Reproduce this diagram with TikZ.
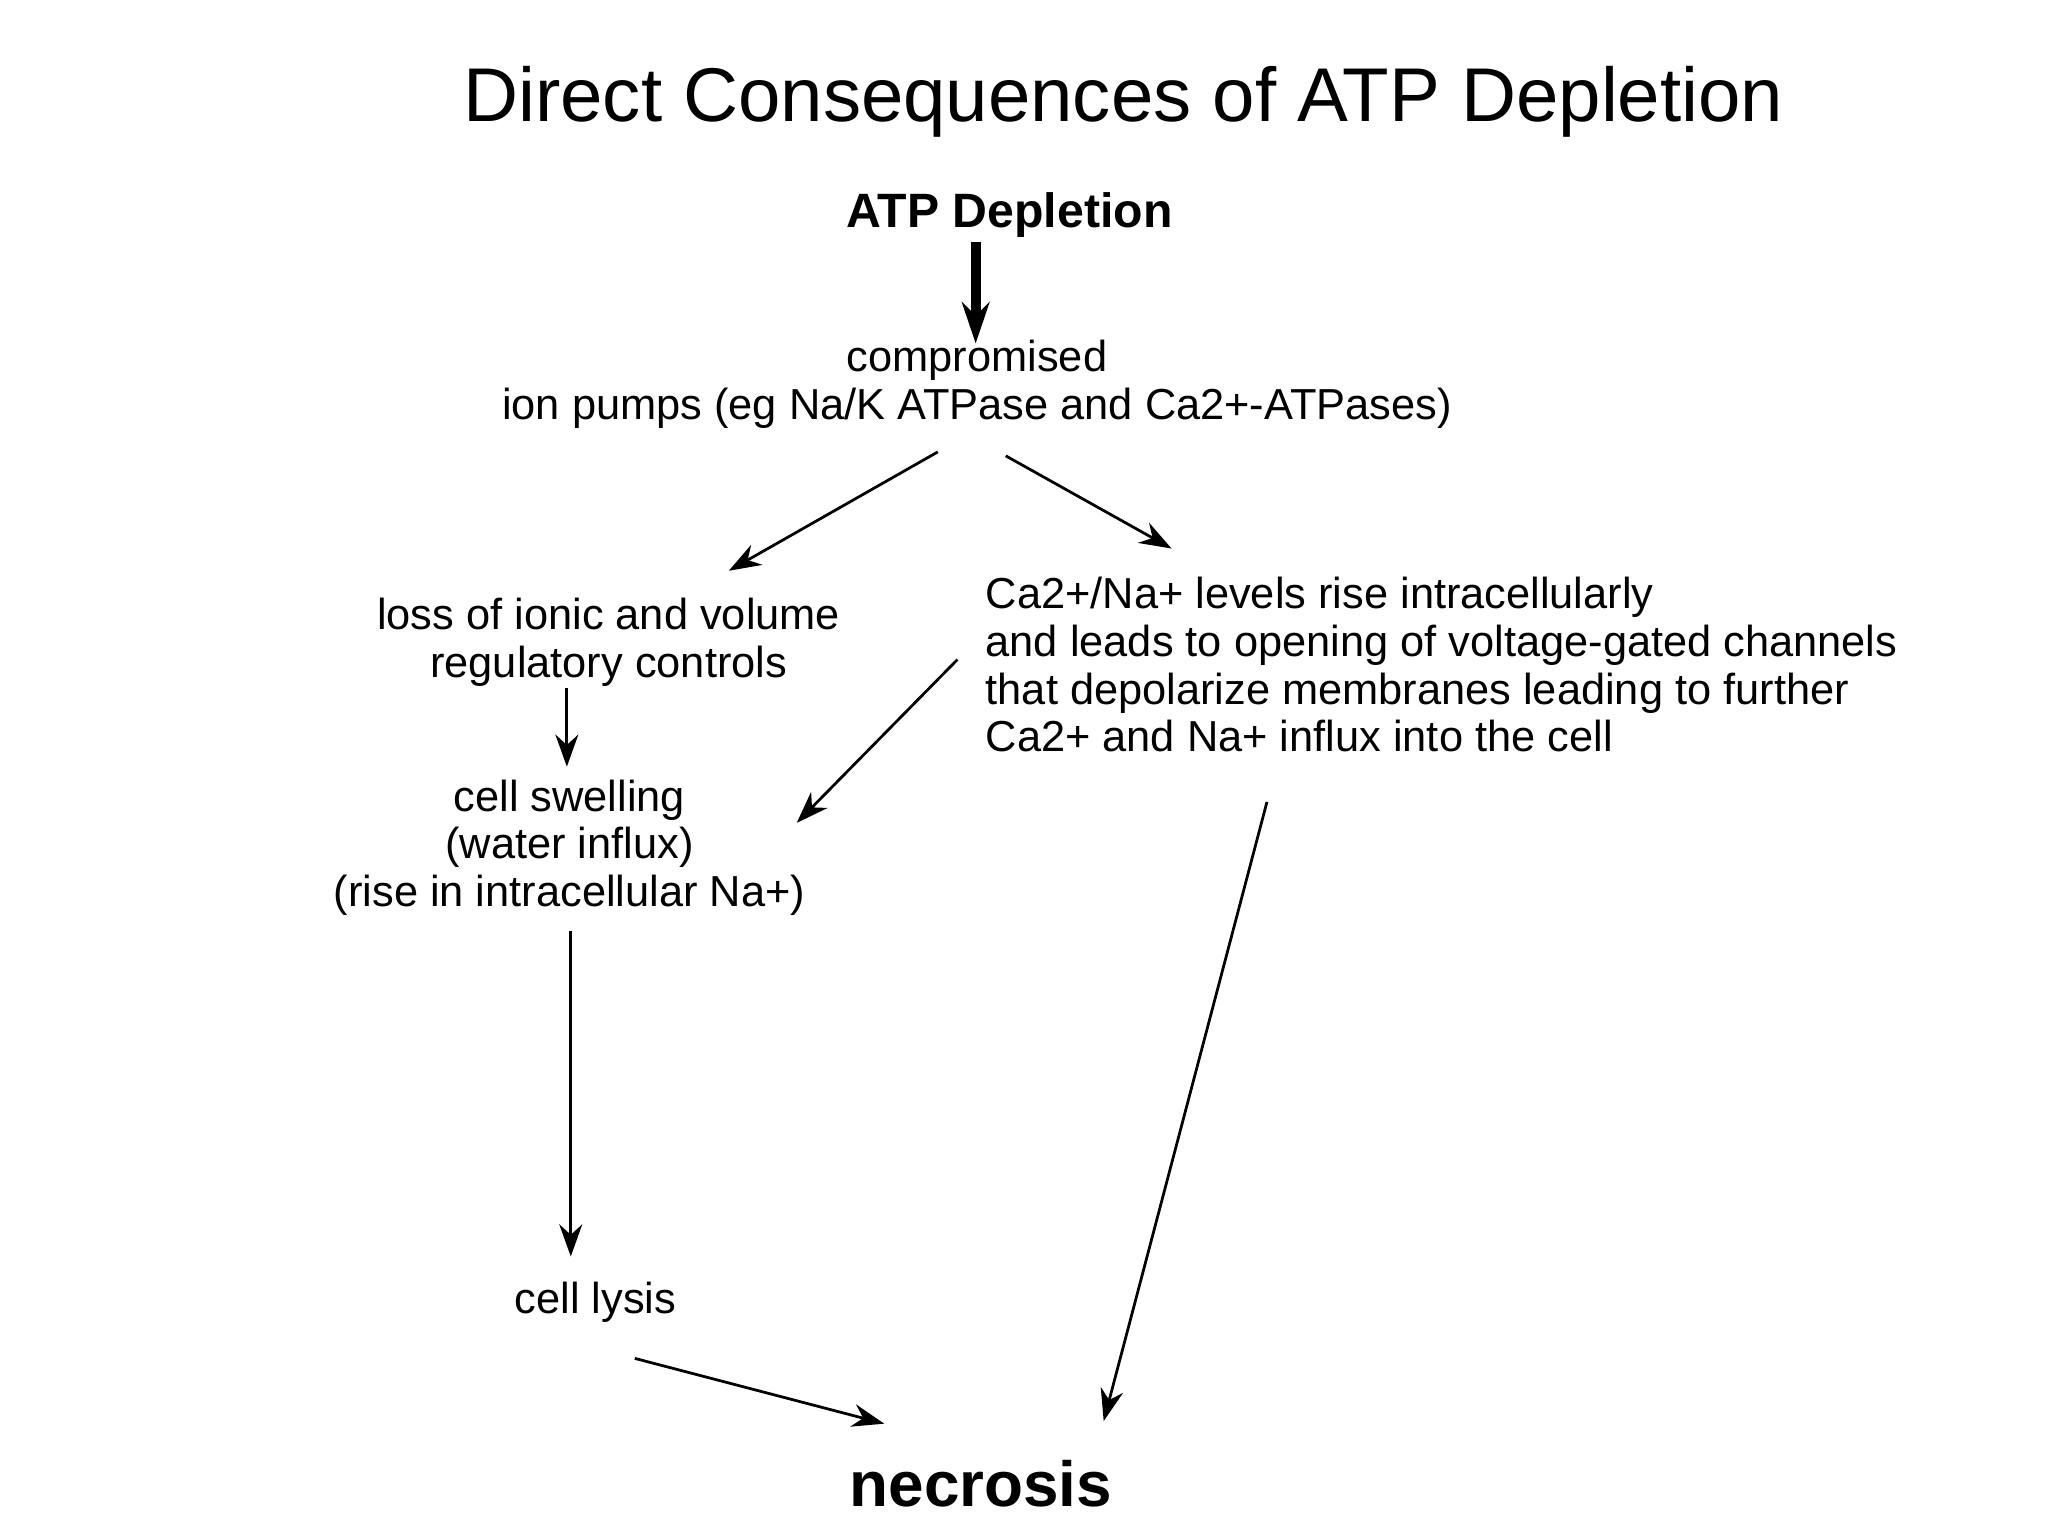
\documentclass[tikz,border=0pt]{standalone}
\usepackage{fontspec}
\setmainfont{Liberation Sans}
\usetikzlibrary{arrows.meta}
\begin{document}
\begin{tikzpicture}[
  txt/.style={font=\fontsize{9.45}{10.4}\selectfont, inner sep=0pt},
  arr/.style={-{Stealth[length=7pt,width=5pt]}, line width=0.6pt},
  thick arr/.style={-{Stealth[length=9pt,width=6pt]}, line width=2.2pt}]
\useasboundingbox (0,0) rectangle (15.68,-11.76);
\node[inner sep=0pt, font=\fontsize{16.6}{19}\selectfont] (title) at (8.6,-0.78) {Direct Consequences of ATP Depletion};
\node[inner sep=0pt, font=\fontsize{10.5}{12}\selectfont\bfseries] (atp) at (7.73,-1.65) {ATP Depletion};
\node[txt, align=center] (pumps) at (7.48,-2.94) {compromised\\ion pumps (eg Na/K ATPase and Ca2+-ATPases)};
\node[txt, align=center] (loss) at (4.66,-4.92) {loss of ionic and volume\\regulatory controls};
\node[txt, align=left, anchor=west] (ca) at (7.54,-5.09) {Ca2+/Na+ levels rise intracellularly\\and leads to opening of voltage-gated channels\\that depolarize membranes leading to further\\Ca2+ and Na+ influx into the cell};
\node[txt, align=center] (swell) at (4.36,-6.49) {cell swelling\\(water influx)\\(rise in intracellular Na+)};
\node[txt] (lysis) at (4.56,-9.97) {cell lysis};
\node[inner sep=0pt, font=\fontsize{13.9}{16}\selectfont\bfseries] (nec) at (7.51,-11.36) {necrosis};
\coordinate (p1) at (7.47,-1.85); \coordinate (p2) at (7.47,-2.63);
\coordinate (l1) at (7.18,-3.46); \coordinate (l2) at (5.58,-4.37);
\coordinate (r1) at (7.70,-3.49); \coordinate (r2) at (8.97,-4.20);
\coordinate (d1) at (4.34,-5.27); \coordinate (d2) at (4.34,-5.87);
\coordinate (c1) at (7.33,-5.05); \coordinate (c2) at (6.10,-6.30);
\coordinate (s1) at (4.37,-7.13); \coordinate (s2) at (4.37,-9.62);
\coordinate (y1) at (4.86,-10.40); \coordinate (y2) at (6.77,-10.90);
\coordinate (n1) at (9.70,-6.14); \coordinate (n2) at (8.45,-10.88);
\draw[thick arr] (p1) -- (p2);
\draw[arr] (l1) -- (l2);
\draw[arr] (r1) -- (r2);
\draw[arr] (d1) -- (d2);
\draw[arr] (c1) -- (c2);
\draw[arr] (s1) -- (s2);
\draw[arr] (y1) -- (y2);
\draw[arr] (n1) -- (n2);
\end{tikzpicture}
\end{document}
